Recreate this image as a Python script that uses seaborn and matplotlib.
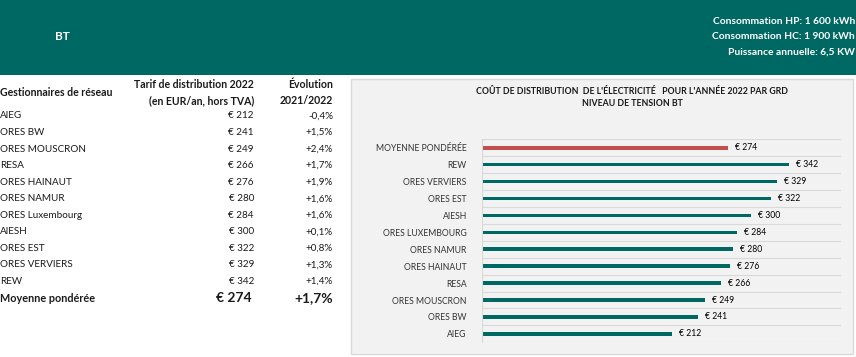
import matplotlib
matplotlib.use("Agg")
import matplotlib.pyplot as plt
from matplotlib.patches import Rectangle
import seaborn as sns
import pandas as pd

# ---------------- data ----------------
gestionnaires = ["AIEG", "ORES BW", "ORES MOUSCRON", "RESA", "ORES HAINAUT", "ORES NAMUR",
                 "ORES Luxembourg", "AIESH", "ORES EST", "ORES VERVIERS", "REW"]
tarifs = [212, 241, 249, 266, 276, 280, 284, 300, 322, 329, 342]
evolutions = [-0.4, 1.5, 2.4, 1.7, 1.9, 1.6, 1.6, 0.1, 0.8, 1.3, 1.4]
moyenne_label = "Moyenne pondérée"
moyenne_tarif = 274
moyenne_evol = 1.7

header_left = "BT"
header_right = ["Consommation HP: 1 600 kWh", "Consommation HC: 1 900 kWh", "Puissance annuelle: 6,5 KW"]
col_headers = ["Gestionnaires de réseau", "Tarif de distribution 2022", "(en EUR/an, hors TVA)",
               "Évolution", "2021/2022"]
chart_title = ["COÛT DE DISTRIBUTION  DE L'ÉLECTRICITÉ   POUR L'ANNÉE 2022 PAR GRD",
               "NIVEAU DE TENSION BT"]

TEAL = "#006863"
RED = "#c0504d"
DARK = "#1a1a1a"
FONT = "Lato"

W, H = 856, 357


def fx(x):
    return x / W


def fy(y):
    return 1 - y / H


def eur(v):
    return f"€ {v}"


def pct(v):
    return f"{v:+.1f}%".replace(".", ",")


sns.set_theme(style="white")
plt.rcParams["font.family"] = [FONT, "DejaVu Sans"]

fig = plt.figure(figsize=(W / 100, H / 100), dpi=100)
fig.patch.set_facecolor("white")

# header band
fig.patches.append(Rectangle((0, fy(75)), 1, 75 / H, transform=fig.transFigure,
                             facecolor=TEAL, edgecolor="none", zorder=-2))
fig.text(fx(55), fy(37), header_left, color="white", fontsize=8.5, fontweight="bold",
         ha="left", va="center")
for i, t in enumerate(header_right):
    fig.text(fx(855), fy(21 + 15.5 * i), t, color="white", fontsize=7.4,
             fontweight="bold", ha="right", va="center")

# chart panel background
fig.patches.append(Rectangle((fx(351), fy(354)), (853 - 351) / W, (354 - 79) / H,
                             transform=fig.transFigure, facecolor="#f2f2f2",
                             edgecolor="#d9d9d9", linewidth=1, zorder=-2))

# ---------------- table ----------------
HS = 7.6
fig.text(fx(0), fy(93), col_headers[0], fontsize=HS, fontweight="bold", color=DARK,
         ha="left", va="center")
fig.text(fx(254), fy(85), col_headers[1], fontsize=HS, fontweight="bold", color=DARK,
         ha="right", va="center")
fig.text(fx(254), fy(101), col_headers[2], fontsize=HS, fontweight="bold", color=DARK,
         ha="right", va="center")
fig.text(fx(333), fy(85), col_headers[3], fontsize=HS, fontweight="bold", color=DARK,
         ha="right", va="center")
fig.text(fx(333), fy(101), col_headers[4], fontsize=HS, fontweight="bold", color=DARK,
         ha="right", va="center")

row0, step = 116, 16.55
for i, (g, t, e) in enumerate(zip(gestionnaires, tarifs, evolutions)):
    y = row0 + step * i
    fig.text(fx(0), fy(y), g, fontsize=7.1, color=DARK, ha="left", va="center")
    fig.text(fx(254), fy(y), eur(t), fontsize=7.1, color=DARK, ha="right", va="center")
    fig.text(fx(333), fy(y), pct(e), fontsize=7.1, color=DARK, ha="right", va="center")
y = row0 + step * len(gestionnaires)
fig.text(fx(0), fy(y), moyenne_label, fontsize=7.8, fontweight="bold", color=DARK,
         ha="left", va="center")
fig.text(fx(252), fy(y), eur(moyenne_tarif), fontsize=10, fontweight="bold", color=DARK,
         ha="right", va="center")
fig.text(fx(333), fy(y), pct(moyenne_evol), fontsize=10, fontweight="bold", color=DARK,
         ha="right", va="center")

# ---------------- chart ----------------
for i, t in enumerate(chart_title):
    fig.text(fx(632), fy(91 + 12.5 * i), t, fontsize=6.3, fontweight="bold", color=DARK,
             ha="center", va="center")

labels = [moyenne_label.upper()] + [g.upper() for g in gestionnaires[::-1]]
values = [moyenne_tarif] + tarifs[::-1]
df = pd.DataFrame({"grd": labels, "tarif": values})
palette = {lab: (RED if k == 0 else TEAL) for k, lab in enumerate(labels)}

ax = fig.add_axes([fx(482), fy(342.3), (841 - 482) / W, (342.3 - 139.3) / H])
ax.set_facecolor("#f2f2f2")
ax.set_zorder(1)
sns.barplot(data=df, y="grd", x="tarif", hue="grd", palette=palette, order=labels,
            orient="h", width=0.21, legend=False, ax=ax, saturation=1, linewidth=0)
ax.set_xlim(0, 400)
ax.set_ylim(len(labels) - 0.5, -0.5)
ax.set_xlabel("")
ax.set_ylabel("")
ax.set_xticks([])
ax.set_yticks(range(len(labels)))
ax.set_yticklabels(labels, fontsize=6.2, color="#333333")
ax.set_yticks([k - 0.5 for k in range(len(labels) + 1)], minor=True)
ax.tick_params(axis="y", which="both", length=0, pad=11)
ax.grid(axis="y", which="minor", color="#d9d9d9", linewidth=0.8)
ax.grid(axis="y", which="major", visible=False)
ax.set_axisbelow(True)
for s in ["top", "right", "bottom"]:
    ax.spines[s].set_visible(False)
ax.spines["left"].set_color("#d9d9d9")
ax.spines["left"].set_linewidth(0.8)

for cont in ax.containers:
    ax.bar_label(cont, labels=[eur(int(v)) for v in cont.datavalues], padding=5,
                 fontsize=6.2, color="black")

fig.savefig("out.png", dpi=100, facecolor=fig.get_facecolor())
